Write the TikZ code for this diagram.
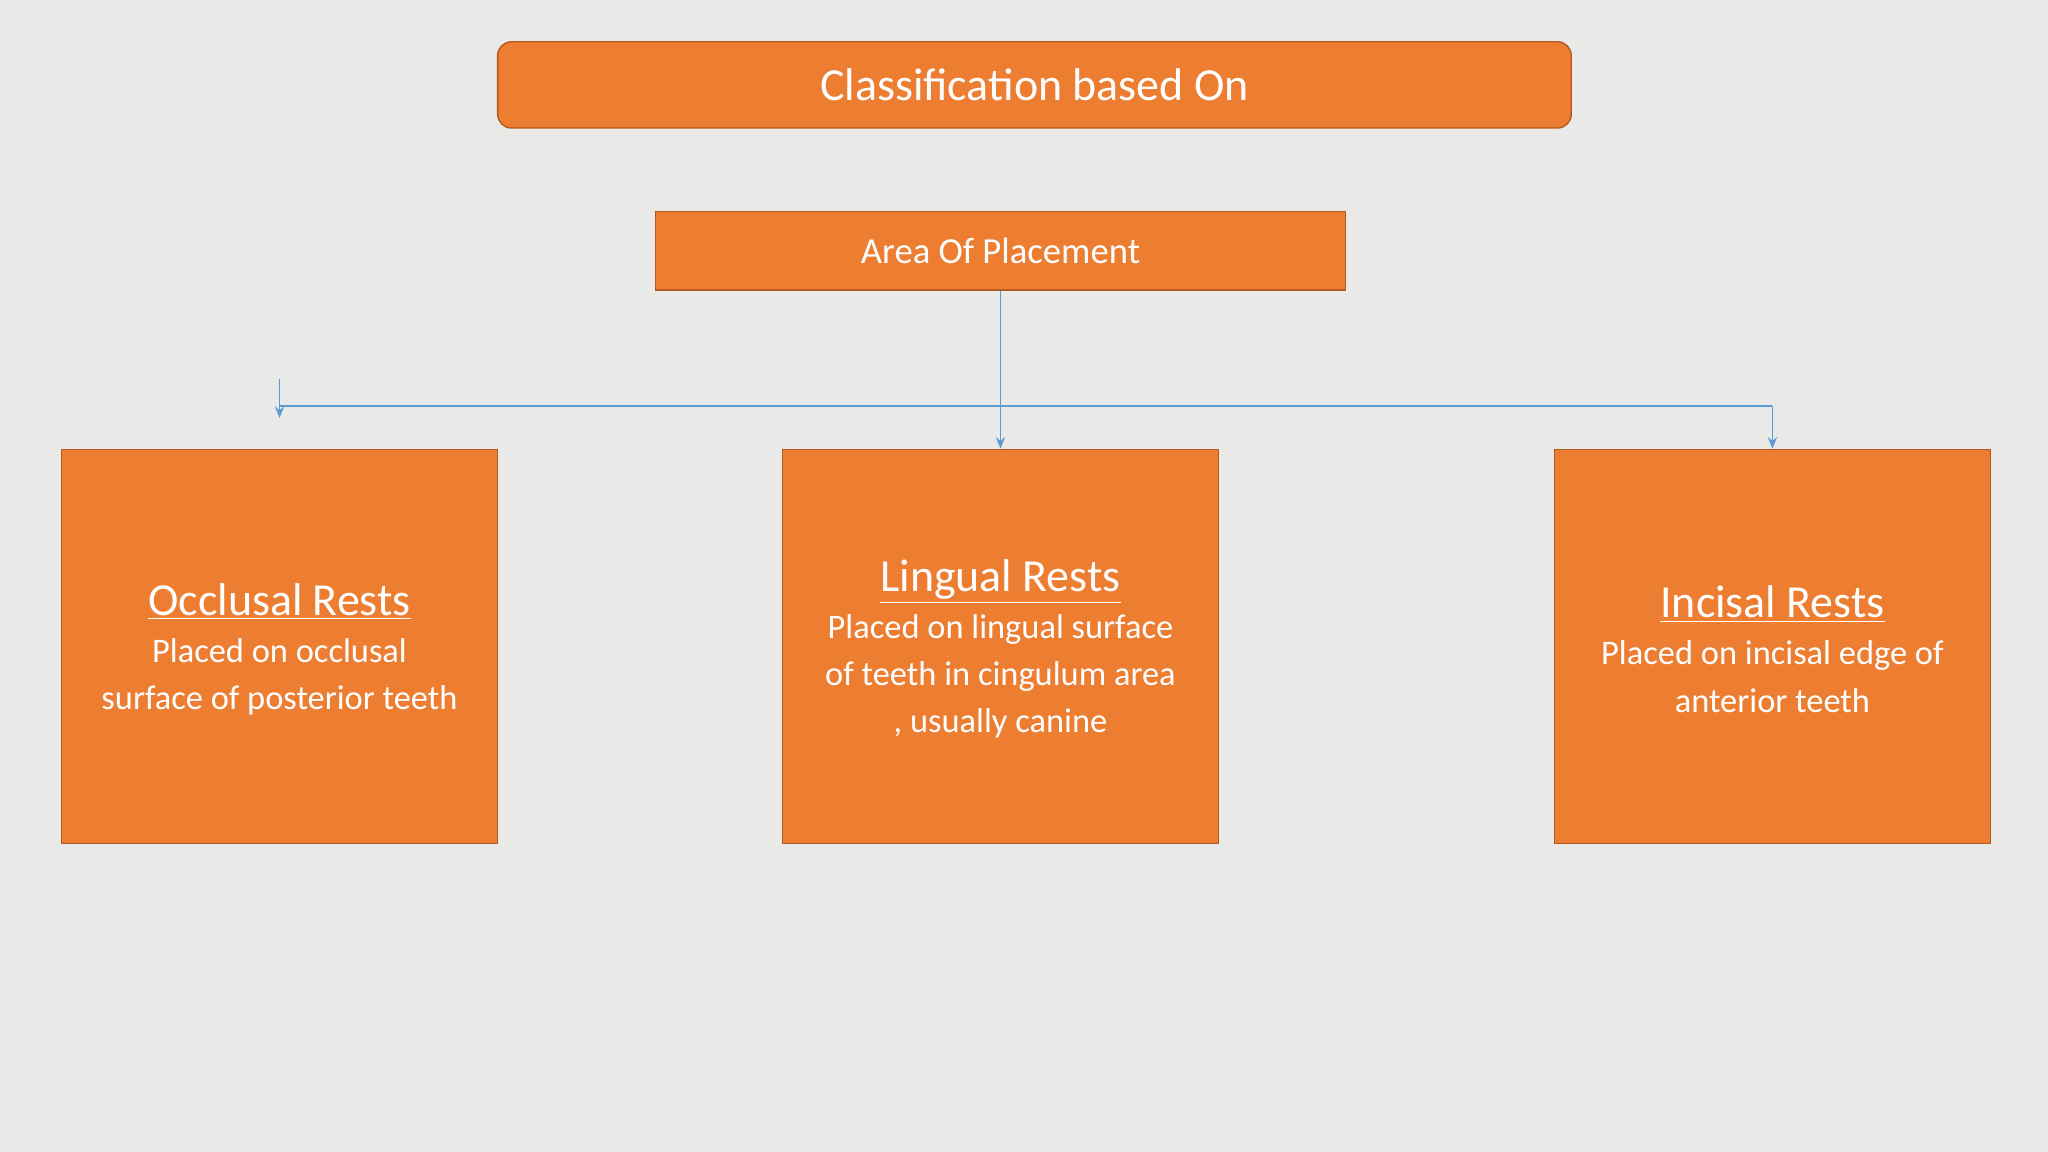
\documentclass[tikz,border=0pt]{standalone}
\usepackage{fontspec}
\setmainfont{Carlito}
\usetikzlibrary{arrows.meta}
\definecolor{org}{HTML}{ED7D31}
\definecolor{orgd}{HTML}{B35A1E}
\definecolor{lnk}{HTML}{5B9BD5}
\definecolor{bg}{HTML}{E9E9E7}
\begin{document}
\begin{tikzpicture}[x=0.02cm,y=-0.02cm,
  box/.style={draw=orgd,fill=org,text=white,line width=0.6pt,inner sep=0pt,align=center},
  conn/.style={draw=lnk,line width=0.7pt,-{Stealth[length=5pt,width=4pt]}}]
\fill[bg] (0,0) rectangle (1568,882);
\useasboundingbox (0,0) rectangle (1568,882);
\node[box,rounded corners=6pt,minimum width=822*0.02cm,minimum height=66*0.02cm,font=\fontsize{20}{24}\selectfont] (title) at (792,65) {Classification based On};
\node[box,minimum width=528*0.02cm,minimum height=60*0.02cm,font=\fontsize{16}{19}\selectfont] (area) at (766,192) {Area Of Placement};
\node[box,minimum width=334*0.02cm,minimum height=302*0.02cm] (occ) at (214,495) {};
\node[box,minimum width=334*0.02cm,minimum height=302*0.02cm] (lin) at (766,495) {};
\node[box,minimum width=334*0.02cm,minimum height=302*0.02cm] (inc) at (1357,495) {};
\node[text=white,align=center,font=\fontsize{15}{20.5}\selectfont] (occt) at (214,497) {{\fontsize{20}{24}\selectfont\underline{Occlusal Rests}}\\Placed on occlusal\\surface of posterior teeth};
\node[text=white,align=center,font=\fontsize{15}{20.5}\selectfont] (lint) at (766,497) {{\fontsize{20}{24}\selectfont\underline{Lingual Rests}}\\Placed on lingual surface\\of teeth in cingulum area\\, usually canine};
\node[text=white,align=center,font=\fontsize{15}{20.5}\selectfont] (inct) at (1357,497) {{\fontsize{20}{24}\selectfont\underline{Incisal Rests}}\\Placed on incisal edge of\\anterior teeth};
\coordinate (jl) at (214,311);
\coordinate (jr) at (1357,311);
\coordinate (ls) at (214,290);
\coordinate (le) at (214,320);
\draw[conn] (area.south) -- (lin.north);
\draw[draw=lnk,line width=0.7pt] (jl) -- (jr);
\draw[conn] (jr) -- (inc.north);
\draw[conn] (ls) -- (le);
\end{tikzpicture}
\end{document}
